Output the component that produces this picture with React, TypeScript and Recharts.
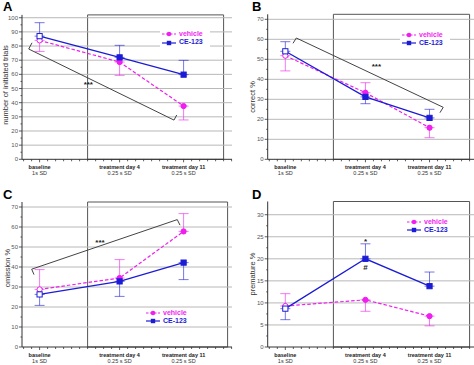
import React from "react";
import {
  ComposedChart,
  Line,
  XAxis,
  YAxis,
  ErrorBar,
  ReferenceArea,
  ReferenceLine,
  ReferenceDot,
  Legend,
} from "recharts";

const FONT = '"Liberation Sans", Arial, sans-serif';
const PINK = "#f01ef0";
const BLUE = "#1c1cd6";
const AXIS = "#333";
const GRID = "#b8b8b8";

// x positions (minor tick units) of the three sessions
const sessions = [2, 12, 20];
const sessionNames = ["baseline", "treatment day 4", "treatment day 11"];
const sessionSD = ["1s SD", "0.25 s SD", "0.25 s SD"];
const seriesNames = ["vehicle", "CE-123"];

// A: number of initiated trials
const trialsVehicle = [84, 68.7, 37.6];
const trialsVehicleErr = [[7.8, 0], [9.4, 0], [9.8, 0]];
const trialsCE = [87, 72, 59.8];
const trialsCEErr = [[0, 9.5], [0, 8.5], [0, 10.1]];
const trialsTicks = [0, 10, 20, 30, 40, 50, 60, 70, 80, 90, 100];

// B: correct %
const correctVehicle = [51.8, 33.3, 15.8];
const correctVehicleErr = [[7.6, 0], [0, 5], [5, 0]];
const correctCE = [54, 31.2, 20.7];
const correctCEErr = [[0, 4.8], [3.4, 0], [0, 4.3]];
const correctTicks = [0, 10, 20, 30, 40, 50, 60, 70];

// C: omission %
const omissionVehicle = [28.8, 34.5, 57.8];
const omissionVehicleErr = [[0, 9.9], [0, 9.2], [0, 8.9]];
const omissionCE = [26.3, 32.8, 42.2];
const omissionCEErr = [[5.5, 0], [7.5, 0], [8.5, 0]];
const omissionTicks = [0, 10, 20, 30, 40, 50, 60, 70];

// D: premature %
const prematureVehicle = [9.3, 10.7, 7.0];
const prematureVehicleErr = [[0, 2.8], [2.6, 0], [2.2, 0]];
const prematureCE = [8.7, 20, 13.8];
const prematureCEErr = [[2.5, 0], [0, 3.4], [0, 3.2]];
const prematureTicks = [0, 5, 10, 15, 20, 25, 30];

const X_DOMAIN = [-0.2, 26.05];
const xTicks = Array.from({ length: 27 }, (_, i) => i);

const buildRows = (v: number[], vErr: number[][], c: number[], cErr: number[][]) =>
  sessions.map((x, i) => ({
    x,
    vehicle: v[i],
    vehicleErr: vErr[i],
    ce: c[i],
    ceErr: cErr[i],
  }));

const withMinor = (majors: number[]) =>
  majors.flatMap((v, i) => (i ? [(v + majors[i - 1]) / 2, v] : [v]));

const XTick = (props: any) => {
  const { x, y, payload } = props;
  const i = sessions.indexOf(payload.value);
  if (i < 0) {
    return <line x1={x} x2={x} y1={y} y2={y + 2} stroke={AXIS} strokeWidth={0.8} />;
  }
  return (
    <g>
      <line x1={x} x2={x} y1={y} y2={y + 3} stroke={AXIS} strokeWidth={0.8} />
      <text x={x} y={y + 10} textAnchor="middle" fontSize={5.5} fontWeight="bold" fill="#222" fontFamily={FONT}>
        {sessionNames[i]}
      </text>
      <text x={x} y={y + 16} textAnchor="middle" fontSize={5.5} fill="#333" fontFamily={FONT}>
        {sessionSD[i]}
      </text>
    </g>
  );
};

const makeYTick = (majors: number[]) => (props: any) => {
  const { x, y, payload } = props;
  if (majors.indexOf(payload.value) < 0) {
    return <line x1={x - 1.5} x2={x} y1={y} y2={y} stroke={AXIS} strokeWidth={0.8} />;
  }
  return (
    <g>
      <line x1={x - 3} x2={x} y1={y} y2={y} stroke={AXIS} strokeWidth={0.8} />
      <text x={x - 4} y={y} dy={2} textAnchor="end" fontSize={6} fill="#555" fontFamily={FONT}>
        {payload.value}
      </text>
    </g>
  );
};

const makeDot = (shape: string, color: string) => (p: any) => {
  const { cx, cy, index } = p;
  const fill = index === 0 ? "#fff" : color;
  if (shape === "circle") {
    return <circle key={index} cx={cx} cy={cy} r={2.6} fill={fill} stroke={color} strokeWidth={1} />;
  }
  return (
    <rect key={index} x={cx - 2.6} y={cy - 2.6} width={5.2} height={5.2} fill={fill} stroke={color} strokeWidth={1} />
  );
};

const LegendBox = () => (
  <div
    style={{
      background: "#fff",
      padding: "0 2px",
      fontFamily: FONT,
      fontWeight: "bold",
      fontSize: 7,
      lineHeight: "8.4px",
    }}
  >
    {seriesNames.map((name, i) => {
      const color = i === 0 ? PINK : BLUE;
      return (
        <div key={name} style={{ display: "flex", alignItems: "center", height: 8.4, color }}>
          <svg width={14} height={8} style={{ marginRight: 3 }}>
            <line x1={0} x2={14} y1={4} y2={4} stroke={color} strokeWidth={1.2} strokeDasharray={i === 0 ? "2.5 1.5" : undefined} />
            {i === 0 ? (
              <circle cx={7} cy={4} r={2.3} fill={color} />
            ) : (
              <rect x={4.8} y={1.8} width={4.4} height={4.4} fill={color} />
            )}
          </svg>
          <span>{name}</span>
        </div>
      );
    })}
  </div>
);

interface Mark {
  x: number;
  y: number;
  text: string;
}

interface PanelProps {
  letter: string;
  left: number;
  top: number;
  width: number;
  height: number;
  marginTop: number;
  marginRight: number;
  axisWidth: number;
  xAxisHeight: number;
  data: any[];
  yMax: number;
  yMajor: number[];
  yTitle: string;
  yTitleX: number;
  yTitleY: number;
  boxRight: number;
  bracket: number[][];
  marks: Mark[];
  legendLeft: number;
  legendTop: number;
  letterLeft: number;
  letterTop: number;
}

const Panel = (p: PanelProps) => {
  const yTicks = withMinor(p.yMajor);
  const segments = p.bracket.slice(1).map((pt, i) => [p.bracket[i], pt]);
  return (
    <div style={{ position: "absolute", left: p.left, top: p.top, width: p.width, height: p.height }}>
      <div
        style={{
          position: "absolute",
          left: p.letterLeft,
          top: p.letterTop,
          fontFamily: FONT,
          fontWeight: "bold",
          fontSize: 13,
          lineHeight: "13px",
          zIndex: 2,
        }}
      >
        {p.letter}
      </div>
      <ComposedChart
        width={p.width}
        height={p.height}
        data={p.data}
        margin={{ top: p.marginTop, right: p.marginRight, bottom: 0, left: 0 }}
      >
        <XAxis
          dataKey="x"
          type="number"
          domain={X_DOMAIN}
          allowDataOverflow
          ticks={xTicks}
          interval={0}
          tick={(t: any) => <XTick {...t} />}
          tickLine={false}
          tickSize={0}
          tickMargin={0}
          height={p.xAxisHeight}
          stroke={AXIS}
        />
        <YAxis
          type="number"
          domain={[0, p.yMax]}
          allowDataOverflow
          ticks={yTicks}
          interval={0}
          tick={makeYTick(p.yMajor)}
          tickLine={false}
          tickSize={0}
          tickMargin={0}
          width={p.axisWidth}
          stroke={AXIS}
          label={{
            content: () => (
              <text
                x={p.yTitleX}
                y={p.yTitleY}
                transform={`rotate(-90 ${p.yTitleX} ${p.yTitleY})`}
                textAnchor="middle"
                dominantBaseline="central"
                fontSize={7.5}
                fill="#333"
                fontFamily={FONT}
              >
                {p.yTitle}
              </text>
            ),
          }}
        />
        {p.yMajor
          .filter((v) => v > 0)
          .map((v) => (
            <ReferenceLine key={`g${v}`} y={v} stroke={GRID} strokeWidth={1} />
          ))}
        <ReferenceArea
          x1={8}
          x2={p.boxRight}
          y1={0}
          y2={p.yMax}
          fill="none"
          stroke="#555"
          strokeWidth={1}
          ifOverflow="visible"
        />
        {segments.map((s, i) => (
          <ReferenceLine
            key={`b${i}`}
            segment={[
              { x: s[0][0], y: s[0][1] },
              { x: s[1][0], y: s[1][1] },
            ]}
            stroke="#444"
            strokeWidth={1}
            ifOverflow="visible"
          />
        ))}
        {p.marks.map((m, i) => (
          <ReferenceDot
            key={`m${i}`}
            x={m.x}
            y={m.y}
            r={0}
            fill="none"
            stroke="none"
            label={{ value: m.text, position: "center", fontSize: 8, fontWeight: "bold", fill: "#222", fontFamily: FONT }}
          />
        ))}
        <Line
          dataKey="vehicle"
          stroke={PINK}
          strokeWidth={1.2}
          strokeDasharray="3.5 2"
          dot={makeDot("circle", PINK)}
          activeDot={false}
          isAnimationActive={false}
        >
          <ErrorBar dataKey="vehicleErr" direction="y" width={5} stroke={PINK} strokeOpacity={0.6} strokeWidth={1} />
        </Line>
        <Line
          dataKey="ce"
          stroke={BLUE}
          strokeWidth={1.3}
          dot={makeDot("square", BLUE)}
          activeDot={false}
          isAnimationActive={false}
        >
          <ErrorBar dataKey="ceErr" direction="y" width={5} stroke={BLUE} strokeOpacity={0.6} strokeWidth={1} />
        </Line>
        <Legend
          layout="vertical"
          align="center"
          verticalAlign="middle"
          content={() => <LegendBox />}
          wrapperStyle={{ left: p.legendLeft, top: p.legendTop, width: 50 }}
        />
      </ComposedChart>
    </div>
  );
};

export default function App() {
  return (
    <div
      style={{
        position: "absolute",
        left: 0,
        top: 0,
        width: 474,
        height: 365,
        overflow: "hidden",
        background: "#fff",
      }}
    >
      <Panel
        letter="A"
        left={0}
        top={0}
        width={237}
        height={182}
        marginTop={14.9}
        marginRight={5}
        axisWidth={22}
        xAxisHeight={22.7}
        data={buildRows(trialsVehicle, trialsVehicleErr, trialsCE, trialsCEErr)}
        yMax={102}
        yMajor={trialsTicks}
        yTitle="number of initiated trials"
        yTitleX={5}
        yTitleY={85}
        boxRight={25}
        bracket={[
          [1.05, 82.3],
          [0.64, 77.9],
          [18.8, 27.7],
          [19.14, 31.3],
        ]}
        marks={[{ x: 8.09, y: 53, text: "***" }]}
        legendLeft={160}
        legendTop={30}
        letterLeft={3}
        letterTop={0}
      />
      <Panel
        letter="B"
        left={237}
        top={0}
        width={241}
        height={182}
        marginTop={14.3}
        marginRight={0}
        axisWidth={30.7}
        xAxisHeight={22.7}
        data={buildRows(correctVehicle, correctVehicleErr, correctCE, correctCEErr)}
        yMax={72.5}
        yMajor={correctTicks}
        yTitle="correct %"
        yTitleX={15}
        yTitleY={97}
        boxRight={25}
        bracket={[
          [2.96, 58],
          [3.37, 60.65],
          [21.71, 26],
          [21.3, 23.3],
        ]}
        marks={[{ x: 13.37, y: 46.8, text: "***" }]}
        legendLeft={163}
        legendTop={30.8}
        letterLeft={15}
        letterTop={0}
      />
      <Panel
        letter="C"
        left={0}
        top={182}
        width={237}
        height={183}
        marginTop={20}
        marginRight={5}
        axisWidth={22}
        xAxisHeight={18}
        data={buildRows(omissionVehicle, omissionVehicleErr, omissionCE, omissionCEErr)}
        yMax={72.5}
        yMajor={omissionTicks}
        yTitle="omission %"
        yTitleX={7}
        yTitleY={86}
        boxRight={25.5}
        bracket={[
          [1.3, 36.2],
          [1.01, 38.9],
          [19.21, 63.7],
          [19.55, 60.9],
        ]}
        marks={[{ x: 9.55, y: 52.5, text: "***" }]}
        legendLeft={144}
        legendTop={126.8}
        letterLeft={3}
        letterTop={6}
      />
      <Panel
        letter="D"
        left={237}
        top={182}
        width={241}
        height={183}
        marginTop={19.5}
        marginRight={0}
        axisWidth={30.7}
        xAxisHeight={18}
        data={buildRows(prematureVehicle, prematureVehicleErr, prematureCE, prematureCEErr)}
        yMax={33}
        yMajor={prematureTicks}
        yTitle="premature %"
        yTitleX={15}
        yTitleY={92}
        boxRight={25}
        bracket={[]}
        marks={[
          { x: 12, y: 24.0, text: "*" },
          { x: 12, y: 18.2, text: "#" },
        ]}
        legendLeft={168}
        legendTop={35.8}
        letterLeft={15}
        letterTop={6}
      />
    </div>
  );
}
